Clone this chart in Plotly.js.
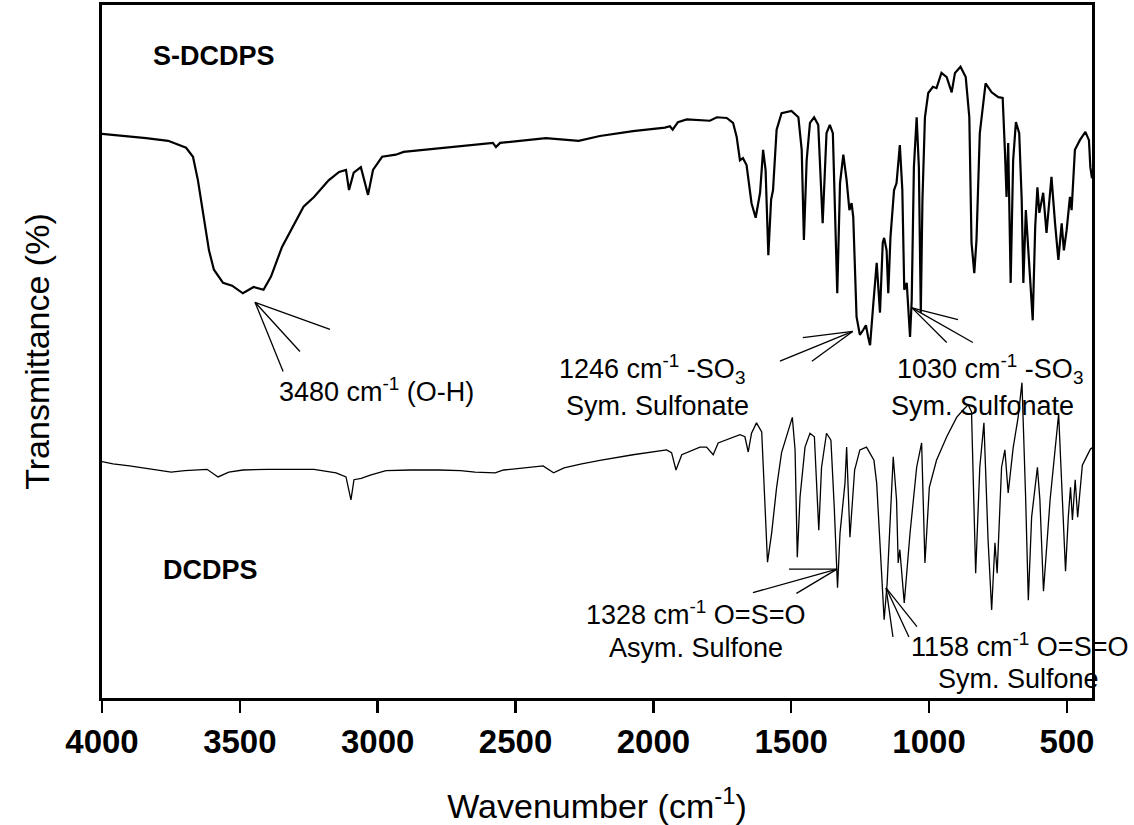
<!DOCTYPE html>
<html>
<head>
<meta charset="utf-8">
<script src="https://cdn.plot.ly/plotly-3.0.1.min.js"></script>
<style>html,body{margin:0;padding:0;background:#fff;}#chart{width:1134px;height:825px;}</style>
</head>
<body>
<div id="chart"></div>
<script>
// S-DCDPS spectrum (upper trace): wavenumber (cm-1) and transmittance (arb. %, offset)
const sdcdpsWn = [4000,3940,3840,3760,3695,3670,3652,3631,3612,3594,3561,3528,3489,3450,3414,3387,3347,3269,3231,3178,3140,3115,3104,3087,3061,3035,3017,2984,2934,2906,2800,2712,2582,2571,2556,2390,2271,2194,2074,1958,1940,1930,1911,1879,1795,1770,1734,1711,1698,1686,1675,1662,1644,1629,1613,1602,1593,1583,1573,1566,1553,1535,1499,1474,1462,1454,1444,1432,1417,1402,1386,1372,1360,1349,1333,1323,1311,1299,1289,1281,1275,1263,1251,1239,1229,1221,1214,1202,1190,1178,1168,1163,1154,1148,1140,1127,1118,1106,1097,1090,1081,1069,1063,1055,1045,1037,1030,1024,1015,1003,986,973,955,936,918,906,886,867,854,846,836,828,816,795,773,749,733,725,719,713,704,695,685,673,664,658,649,640,624,615,607,600,586,574,556,543,531,519,511,501,489,483,471,453,433,420,415,409];
const sdcdpsT = [81.4,81.2,80.8,80.4,79.4,78.1,74.7,69.4,64.6,61.8,59.9,59.5,58.4,59.3,58.9,60.8,65.1,70.9,72.3,74.7,75.9,76.2,73.3,75.8,76.6,72.6,76.2,78.1,78.4,78.8,79.2,79.5,80.1,79.5,80.1,80.8,80.4,81.1,81.8,82.3,82.5,82.0,83.1,83.5,83.3,83.8,83.7,83.0,81.0,77.6,77.9,76.9,71.4,69.3,72.9,79.1,76.2,63.9,71.9,73.3,82.0,84.4,84.7,83.8,79.1,66.1,77.6,83.0,83.8,82.7,68.5,81.5,82.7,81.5,58.4,74.3,78.4,74.7,70.4,71.4,69.4,55.0,52.4,53.1,53.8,52.1,50.9,57.0,62.8,55.6,65.7,66.4,64.6,58.4,66.5,73.3,74.3,79.8,73.3,58.9,59.9,52.1,57.4,76.6,83.8,76.6,55.6,71.9,83.8,87.3,88.2,88.0,90.2,89.6,87.4,90.2,91.1,89.6,83.8,65.7,61.3,66.1,81.5,88.7,87.4,86.7,86.6,79.1,72.3,80.1,59.9,77.6,83.1,81.5,71.9,59.9,70.4,64.6,54.5,68.0,73.7,70.0,72.9,67.1,75.2,68.5,63.2,68.5,64.6,67.5,72.3,70.4,79.1,80.5,81.7,80.5,76.6,75.0];

// DCDPS spectrum (lower trace)
const dcdpsWn = [4000,3960,3900,3851,3800,3749,3700,3660,3619,3579,3540,3489,3400,3300,3231,3151,3115,3097,3086,3060,3024,2970,2880,2777,2700,2647,2574,2543,2470,2400,2362,2324,2260,2194,2074,1952,1934,1918,1897,1831,1807,1783,1765,1686,1668,1656,1644,1626,1607,1595,1586,1571,1553,1535,1511,1496,1486,1478,1468,1450,1432,1416,1400,1390,1372,1356,1344,1335,1332,1323,1305,1299,1287,1270,1251,1227,1200,1190,1172,1163,1152,1130,1118,1112,1106,1090,1069,1045,1027,1015,999,973,936,900,876,858,846,831,816,801,786,773,761,753,737,725,713,695,677,663,650,640,628,607,598,585,561,537,530,519,505,495,487,480,470,461,444,429,415,409];
const dcdpsT = [34.1,33.8,33.5,33.2,32.9,32.6,32.8,32.9,33.0,31.9,32.6,32.9,33.0,33.0,33.0,32.5,31.9,28.6,31.5,31.7,32.2,32.8,32.9,32.9,32.8,32.6,32.5,32.9,33.2,33.5,32.5,33.2,33.8,34.3,35.1,35.8,35.4,32.9,35.1,36.2,36.2,35.1,36.8,38.0,37.7,35.5,38.2,39.7,38.4,28.6,19.6,23.8,30.4,35.4,38.7,40.5,35.8,20.3,29.0,36.2,38.2,37.7,24.2,33.3,38.2,37.2,27.6,17.5,15.9,23.8,31.0,36.2,23.2,32.9,35.8,36.2,34.3,31.0,18.9,11.3,16.6,34.8,28.6,19.5,21.4,13.7,23.8,33.3,36.8,19.5,30.4,34.3,37.7,40.5,41.6,42.3,41.3,18.0,33.3,39.7,22.8,12.7,22.4,18.0,33.3,35.8,29.6,36.1,40.5,45.5,29.3,14.1,26.1,33.3,28.6,15.4,28.6,38.2,41.0,31.0,18.3,26.1,30.4,25.7,31.5,26.1,33.6,34.8,35.9,36.1];

const xTicks = [4000,3500,3000,2500,2000,1500,1000,500];

// Text labels
const labelTexts = ["S-DCDPS","DCDPS","3480 cm<sup>-1</sup> (O-H)",
  "1246 cm<sup>-1</sup> -SO<sub>3</sub>","Sym. Sulfonate",
  "1030 cm<sup>-1</sup> -SO<sub>3</sub>","Sym. Sulfonate",
  "1328 cm<sup>-1</sup> O=S=O","Asym. Sulfone",
  "1158 cm<sup>-1</sup> O=S=O","Sym. Sulfone"];
const labelWn = [3594,3605,3006,2005,1986,780,808,1846,1844,672,674];
const labelT  = [92.6,18.4,44.4,47.5,42.1,47.5,42.1,12.3,7.2,7.7,2.7];
const labelBold = [true,true,false,false,false,false,false,false,false,false,false];

// Pointer fans: tip point and three line ends (wavenumber, transmittance)
const tipWn = [3445,1277,1062,1334,1156];
const tipT  = [57.1,52.9,56.3,18.6,15.9];
const endWn = [[3173,3282,3343],[1458,1541,1425],[895,936,841],[1508,1639,1481],[1131,1073,1044]];
const endT  = [[53.2,50.0,47.1],[52.0,48.6,48.6],[54.6,51.3,51.3],[18.6,15.2,15.1],[8.8,8.8,10.3]];

const FONT = "Liberation Sans, Arial, Helvetica, sans-serif";

const traces = [
  {x: sdcdpsWn, y: sdcdpsT, type: 'scatter', mode: 'lines', name: 'S-DCDPS',
   line: {color: '#000', width: 2.2}, hoverinfo: 'x+y'},
  {x: dcdpsWn, y: dcdpsT, type: 'scatter', mode: 'lines', name: 'DCDPS',
   line: {color: '#000', width: 1.3}, hoverinfo: 'x+y'}
];

const annotations = labelTexts.map((t, i) => ({
  x: labelWn[i], y: labelT[i], xref: 'x', yref: 'y', text: t, showarrow: false,
  xanchor: 'center', yanchor: 'middle',
  font: {family: FONT, size: 27, color: '#000', weight: labelBold[i] ? 'bold' : 'normal'}
}));

const shapes = [];
tipWn.forEach((w, i) => {
  endWn[i].forEach((ew, j) => {
    shapes.push({type: 'line', xref: 'x', yref: 'y', x0: w, y0: tipT[i], x1: ew, y1: endT[i][j],
      line: {color: '#000', width: 1.3}});
  });
});

const layout = {
  width: 1134, height: 825,
  margin: {l: 102, r: 42, t: 5, b: 127},
  paper_bgcolor: '#fff', plot_bgcolor: '#fff',
  showlegend: false,
  font: {family: FONT, color: '#000'},
  xaxis: {
    range: [4000, 409], tickvals: xTicks, ticktext: xTicks.map(String),
    ticks: 'outside', ticklen: 12, tickwidth: 2.5, tickcolor: '#000',
    ticklabelstandoff: 0,
    tickfont: {family: FONT, size: 33, color: '#000', weight: 'bold'},
    showline: true, linewidth: 3, linecolor: '#000', mirror: true,
    showgrid: false, zeroline: false,
    title: {text: 'Wavenumber (cm<sup>-1</sup>)', font: {family: FONT, size: 34, color: '#000'}, standoff: 36}
  },
  yaxis: {
    range: [0, 100], showticklabels: false, ticks: '',
    showline: true, linewidth: 3, linecolor: '#000', mirror: true,
    showgrid: false, zeroline: false,
    title: {text: 'Transmittance (%)', font: {family: FONT, size: 34, color: '#000'}, standoff: 40}
  },
  annotations: annotations,
  shapes: shapes
};

Plotly.newPlot('chart', traces, layout, {displayModeBar: false, staticPlot: true});
</script>
</body>
</html>
